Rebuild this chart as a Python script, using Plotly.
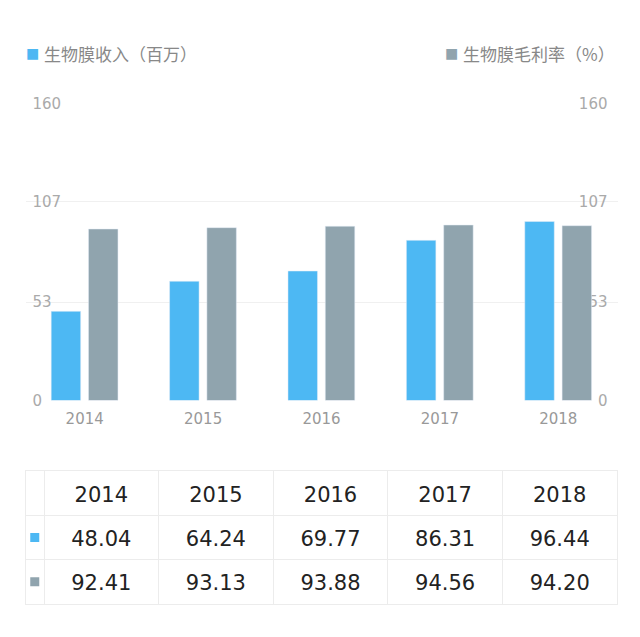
import plotly.graph_objects as go

years = ["2014", "2015", "2016", "2017", "2018"]
revenue = [48.04, 64.24, 69.77, 86.31, 96.44]
margin = [92.41, 93.13, 93.88, 94.56, 94.20]
y_ticks = [0, 53, 107, 160]
legend_revenue = "生物膜收入（百万）"
legend_margin = "生物膜毛利率（%）"

BLUE = "#4db8f3"
GRAY = "#90a4ae"
TEXT = "#222222"
LINE = "#ececec"
W, H = 640, 637
# the photographed page shows the figure shifted by OFF px and scaled by SCL vertically
OFF, SCL = 8.0, 0.973


def py(px):
    return (H - (px - OFF) / SCL) / H


def pxx(px):
    return px / W


fig = go.Figure()
fig.add_trace(go.Bar(x=years, y=revenue, marker_color=BLUE, width=0.249,
                     offset=-0.283, yaxis="y", hoverinfo="skip"))
fig.add_trace(go.Bar(x=years, y=margin, marker_color=GRAY, width=0.249,
                     offset=0.032, yaxis="y2", hoverinfo="skip"))

# ---- data table drawn on its own axes (columns on x3, rows on y3) ----
first_col = 18.5 / 114.5          # width of the marker column in column units
col_edges = [0, first_col] + [first_col + i + 1 for i in range(len(years))]
col_centers = [first_col + i + 0.5 for i in range(len(years))]
TEXT_DY = 0.08                    # digits sit slightly low of the box centre
fmt = lambda v: f"{v:.2f}"
tfont = dict(family="DejaVu Sans", size=21, color=TEXT)
rows = [years, [fmt(v) for v in revenue], [fmt(v) for v in margin]]
for r, labels in enumerate(rows):
    fig.add_trace(go.Scatter(x=col_centers, y=[r + 0.5 + TEXT_DY] * len(years), text=labels,
                             mode="text", textfont=tfont, xaxis="x3", yaxis="y3",
                             hoverinfo="skip"))
fig.add_trace(go.Scatter(x=[first_col / 2] * 2, y=[1.5, 2.5], mode="markers",
                         marker=dict(symbol="square", size=9, color=[BLUE, GRAY]),
                         xaxis="x3", yaxis="y3", hoverinfo="skip"))

tickfont = dict(family="DejaVu Sans", size=15, color="#aaaaaa")
fig.update_layout(
    width=W, height=H, autosize=False,
    margin=dict(l=0, r=0, t=0, b=0),
    paper_bgcolor="white", plot_bgcolor="white",
    showlegend=False, barmode="overlay",
    xaxis=dict(domain=[pxx(25.5), pxx(617.5)], type="category", range=[-0.5, 4.5],
               anchor="y",
               showgrid=False, showline=False, zeroline=False, ticks="",
               tickfont=dict(family="DejaVu Sans", size=15, color="#999999"),
               ticklabelstandoff=8),
    yaxis=dict(domain=[py(400), py(102.7)], range=[0, 160], tickvals=y_ticks,
               anchor="x",
               ticklabelposition="inside", ticklabeloverflow="allow",
               showgrid=True, gridcolor="#f0f0f0", gridwidth=1,
               zeroline=False, showline=False, ticks="", tickfont=tickfont,
               ticklabelstandoff=4, layer="below traces"),
    yaxis2=dict(overlaying="y", side="right", anchor="x", range=[0, 160], tickvals=y_ticks,
                ticklabelposition="inside", ticklabeloverflow="allow",
                showgrid=False, zeroline=False, showline=False, ticks="",
                tickfont=tickfont, ticklabelstandoff=7, layer="below traces"),
    xaxis3=dict(domain=[pxx(25.5), pxx(617)], range=[0, col_edges[-1]], anchor="y3",
                tickvals=col_edges, showticklabels=False, ticks="",
                showgrid=True, gridcolor=LINE, gridwidth=1,
                zeroline=False, showline=True, linecolor=LINE, mirror=True),
    yaxis3=dict(domain=[py(603.5), py(471)], range=[3, 0], anchor="x3",
                tickvals=[0, 1, 2, 3], showticklabels=False, ticks="",
                showgrid=True, gridcolor=LINE, gridwidth=1,
                zeroline=False, showline=True, linecolor=LINE, mirror=True),
)

# legend (two items at opposite sides)
fig.add_annotation(xref="paper", yref="paper", x=pxx(24), y=py(52.5), xanchor="left",
                   yanchor="middle", showarrow=False, text="■",
                   font=dict(family="DejaVu Sans", size=14, color=BLUE))
fig.add_annotation(xref="paper", yref="paper", x=pxx(42), y=py(52.5), xanchor="left",
                   yanchor="middle", showarrow=False, text=legend_revenue,
                   font=dict(family="Noto Sans CJK SC", size=17, color="#888888"))
fig.add_annotation(xref="paper", yref="paper", x=pxx(443), y=py(52.5), xanchor="left",
                   yanchor="middle", showarrow=False, text="■",
                   font=dict(family="DejaVu Sans", size=14, color=GRAY))
fig.add_annotation(xref="paper", yref="paper", x=pxx(461), y=py(52.5), xanchor="left",
                   yanchor="middle", showarrow=False, text=legend_margin,
                   font=dict(family="Noto Sans CJK SC", size=17, color="#888888"))

fig.write_html("out.html")
